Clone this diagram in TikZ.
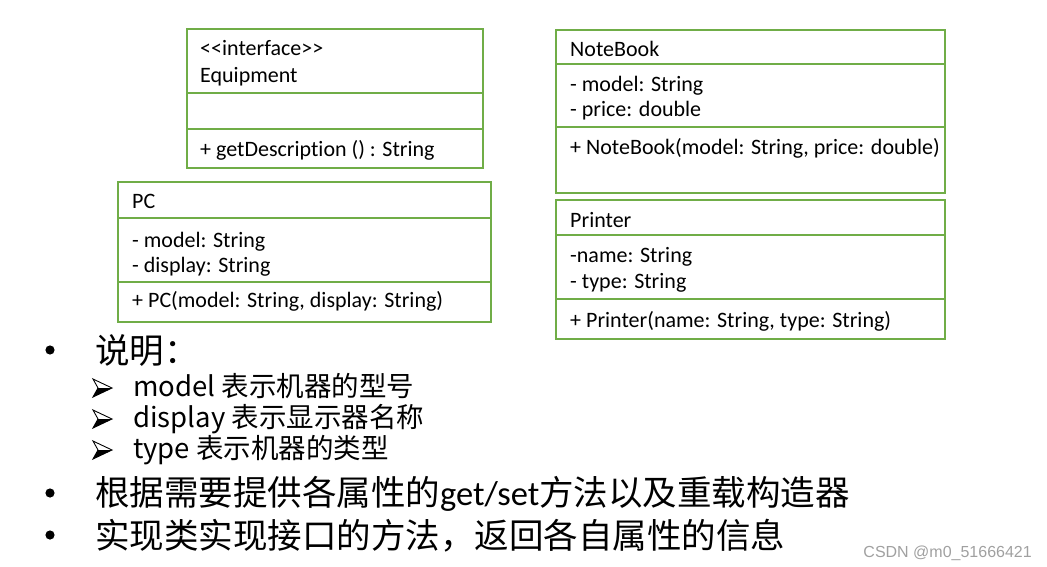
\documentclass[tikz,border=0pt]{standalone}
\usepackage{fontspec}
\usepackage{tikz}
\usetikzlibrary{positioning}
\newfontfamily\umlfont[Ligatures=NoCommon]{Carlito}
\newfontfamily\cjkfont{Noto Sans CJK SC}
\newfontfamily\markfont{Liberation Sans}
\definecolor{umlgreen}{RGB}{112,173,71}
\definecolor{markgray}{RGB}{160,160,160}

\begin{document}
\begin{tikzpicture}[x=1pt, y=-1pt,
  classbox/.style={draw=umlgreen, line width=2pt},
  member/.style={anchor=base west, inner sep=0pt, font=\umlfont\fontsize{22}{26}\selectfont},
  note/.style={anchor=base west, inner sep=0pt, font=\cjkfont\fontsize{34.5}{40}\selectfont},
  subnote/.style={anchor=base west, inner sep=0pt, font=\cjkfont\fontsize{27.5}{32}\selectfont}]
  \useasboundingbox (0,0) rectangle (1047,567);

  % Interface Equipment
  \draw[classbox] (187,29) rectangle (483,168);
  \draw[classbox] (187,93) -- (483,93);
  \draw[classbox] (187,129) -- (483,129);
  \node[member] (eqstereo) at (200,56) {<<interface>>};
  \node[member] (eqname) at (200,83) {Equipment};
  \node[member] (eqmethod) at (200,157) {+ getDescription () : String};

  % Class PC
  \draw[classbox] (118,182) rectangle (491,322);
  \draw[classbox] (118,218) -- (491,218);
  \draw[classbox] (118,282) -- (491,282);
  \node[member] (pcname) at (132,208) {PC};
  \node[member] (pcmodel) at (132,247) {- model: String};
  \node[member] (pcdisplay) at (132,272) {- display: String};
  \node[member] (pcctor) at (132,307) {+ PC(model: String, display: String)};

  % Class NoteBook
  \draw[classbox] (556,30) rectangle (945,193);
  \draw[classbox] (556,64) -- (945,64);
  \draw[classbox] (555,127) -- (946,127);
  \node[member] (nbname) at (570,57) {NoteBook};
  \node[member] (nbmodel) at (570,92) {- model: String};
  \node[member] (nbprice) at (570,117) {- price: double};
  \node[member] (nbctor) at (570,154) {+ NoteBook(model: String, price: double)};

  % Class Printer
  \draw[classbox] (556,200) rectangle (945,339);
  \draw[classbox] (556,235) -- (945,235);
  \draw[classbox] (556,299) -- (945,299);
  \node[member] (prname) at (570,227) {Printer};
  \node[member] (prattname) at (570,262) {-name: String};
  \node[member] (prtype) at (570,288) {- type: String};
  \node[member] (prctor) at (570,327) {+ Printer(name: String, type: String)};

  % Round bullets
  \foreach \y in {350,493,535} {
    \fill (50,\y) circle (4.6);
  }

  % Arrowhead bullets (dark lower half)
  \foreach \y in {388,419,450} {
    \fill (93,\y+9) -- (98,\y) -- (112,\y) -- cycle;
    \draw[line width=0.9pt, line join=miter] (93,\y-9) -- (112,\y) -- (93,\y+9) -- (98,\y) -- cycle;
  }

  % Notes
  \node[note] (explain) at (95,363) {说明：};
  \node[subnote] (modelnote) at (133,396) {model 表示机器的型号};
  \node[subnote] (displaynote) at (133,427) {display 表示显示器名称};
  \node[subnote] (typenote) at (133,458) {type 表示机器的类型};
  \node[note] (getset) at (95,505) {根据需要提供各属性的{\umlfont get/set}方法以及重载构造器};
  \node[note] (implnote) at (95,548) {实现类实现接口的方法，返回各自属性的信息};

  % Watermark
  \node[anchor=base east, inner sep=0pt, text=markgray, font=\markfont\fontsize{16}{18}\selectfont]
    (csdn) at (1032,557) {CSDN @m0\_51666421};
\end{tikzpicture}
\end{document}
